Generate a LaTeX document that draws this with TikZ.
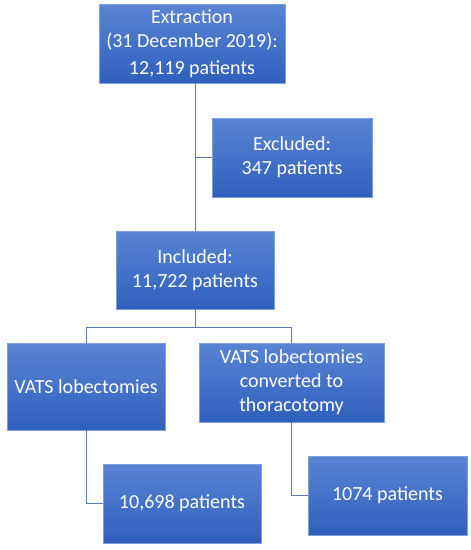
\documentclass[tikz,border=0pt]{standalone}
\usepackage{fontspec}
\setmainfont{Carlito}
\definecolor{topblue}{RGB}{90,132,212}
\definecolor{botblue}{RGB}{48,95,188}
\definecolor{edgeblue}{RGB}{125,160,220}
\definecolor{linkblue}{RGB}{90,122,180}
\begin{document}
\begin{tikzpicture}[x=1pt,y=-1pt,
  box/.style={rectangle, draw=edgeblue, line width=0.8pt, top color=topblue, bottom color=botblue,
    text=white, align=center, font=\fontsize{20}{24}\selectfont, inner sep=0pt},
  link/.style={draw=linkblue, line width=1pt}]
\useasboundingbox (0,0) rectangle (471,550);
\node[box, minimum width=186pt, minimum height=79pt] (ext) at (192,43.5) {Extraction\\(31 December 2019):\\[3pt]12,119 patients};
\node[box, minimum width=160pt, minimum height=79pt] (exc) at (292,157.5) {Excluded:\\347 patients};
\node[box, minimum width=158pt, minimum height=78pt] (inc) at (195,270) {Included:\\11,722 patients};
\node[box, minimum width=158pt, minimum height=87pt] (vats) at (86,386.5) {VATS lobectomies};
\node[box, minimum width=185pt, minimum height=79pt] (conv) at (291.5,382.5) {VATS lobectomies\\converted to\\thoracotomy};
\node[box, minimum width=158pt, minimum height=79pt] (n1) at (182,503.5) {10,698 patients};
\node[box, minimum width=159pt, minimum height=79pt] (n2) at (387.5,495.5) {1074 patients};
\coordinate (split) at (195,327);
\draw[link] (ext.south -| 195,0) -- (inc.north -| 195,0);
\draw[link] (195,157.5) -- (exc.west);
\draw[link] (inc.south) -- (split);
\draw[link] (split) -- (86,327) -- (vats.north);
\draw[link] (split) -- (291.5,327) -- (conv.north);
\draw[link] (vats.south) |- (n1.west);
\draw[link] (conv.south) |- (n2.west);
\end{tikzpicture}
\end{document}
